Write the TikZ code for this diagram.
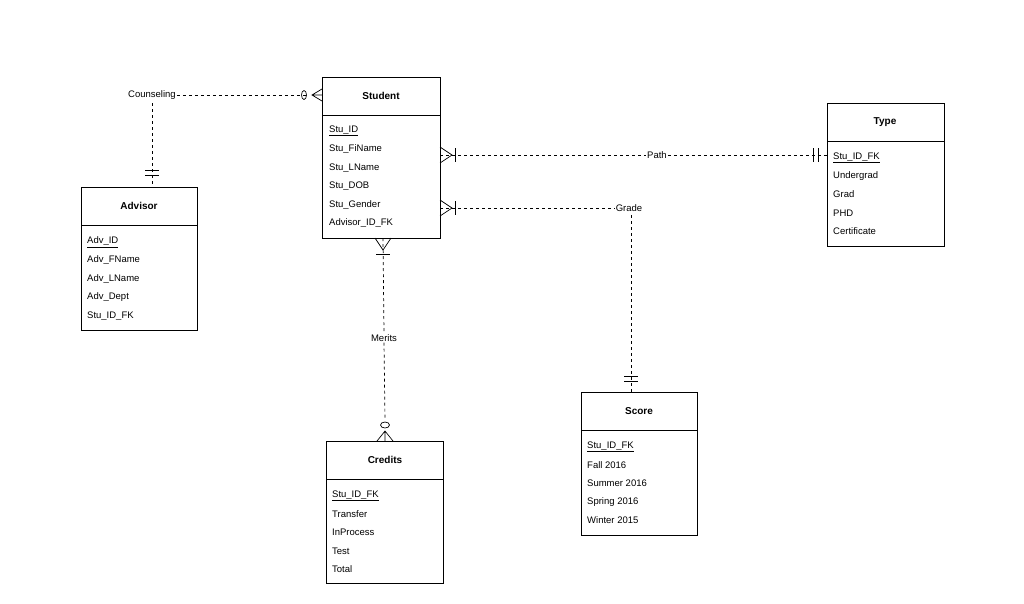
\documentclass[tikz,border=0pt]{standalone}
\usepackage{fontspec}
\setmainfont{Liberation Sans}
\begin{document}
\begin{tikzpicture}[x=1pt,y=-1pt,
  ent/.style={draw,line width=0.8pt,anchor=north west,inner sep=0pt},
  ttl/.style={font=\fontsize{10}{12}\selectfont\bfseries},
  att/.style={font=\fontsize{9.5}{11}\selectfont,anchor=west,inner sep=0pt},
  rel/.style={line width=0.7pt,dash pattern=on 3pt off 3pt},
  mk/.style={line width=0.7pt},
  lbl/.style={font=\fontsize{9.5}{11}\selectfont,fill=white,inner sep=1pt}]
\useasboundingbox (0,0) rectangle (1024,603);
% entity macro-free definitions
% Student
\node[ent,minimum width=118pt,minimum height=161pt] (stu) at (322,77) {};
\draw[line width=0.8pt] (322,115) -- (440,115);
\node[ttl] at (381,96) {Student};
\node[att] at (329,131) {\underline{Stu\_ID}};
\node[att] at (329,149) {Stu\_FiName};
\node[att] at (329,168) {Stu\_LName};
\node[att] at (329,186) {Stu\_DOB};
\node[att] at (329,205) {Stu\_Gender};
\node[att] at (329,223) {Advisor\_ID\_FK};
% Advisor
\node[ent,minimum width=116pt,minimum height=143pt] (adv) at (81,187) {};
\draw[line width=0.8pt] (81,225) -- (197,225);
\node[ttl] at (139,206) {Advisor};
\node[att] at (87,242) {\underline{Adv\_ID}};
\node[att] at (87,260) {Adv\_FName};
\node[att] at (87,279) {Adv\_LName};
\node[att] at (87,297) {Adv\_Dept};
\node[att] at (87,316) {Stu\_ID\_FK};
% Type
\node[ent,minimum width=117pt,minimum height=143pt] (typ) at (827,103) {};
\draw[line width=0.8pt] (827,141) -- (944,141);
\node[ttl] at (885,122) {Type};
\node[att] at (833,158) {\underline{Stu\_ID\_FK}};
\node[att] at (833,176) {Undergrad};
\node[att] at (833,194) {Grad};
\node[att] at (833,213) {PHD};
\node[att] at (833,231) {Certificate};
% Score
\node[ent,minimum width=116pt,minimum height=143pt] (sco) at (581,392) {};
\draw[line width=0.8pt] (581,430) -- (697,430);
\node[ttl] at (639,411) {Score};
\node[att] at (587,447) {\underline{Stu\_ID\_FK}};
\node[att] at (587,465) {Fall 2016};
\node[att] at (587,483) {Summer 2016};
\node[att] at (587,502) {Spring 2016};
\node[att] at (587,520) {Winter 2015};
% Credits
\node[ent,minimum width=117pt,minimum height=142pt] (cre) at (326,441) {};
\draw[line width=0.8pt] (326,479) -- (443,479);
\node[ttl] at (385,460) {Credits};
\node[att] at (332,496) {\underline{Stu\_ID\_FK}};
\node[att] at (332,514) {Transfer};
\node[att] at (332,532) {InProcess};
\node[att] at (332,551) {Test};
\node[att] at (332,569) {Total};
% relationship labels
\node[lbl] (cou) at (152,95) {Counseling};
\node[lbl] (pat) at (657,155) {Path};
\node[lbl] (gra) at (629,208) {Grade};
\node[lbl] (mer) at (384,338) {Merits};
\coordinate (sL) at (322,95);
\coordinate (aT) at (152,187);
\coordinate (sR1) at (440,155);
\coordinate (tL) at (827,155);
\coordinate (sR2) at (440,208);
\coordinate (gD) at (631,215);
\coordinate (scT) at (631,392);
\coordinate (sB) at (383,238);
\coordinate (cT) at (385,441);
% Counseling
\draw[rel] (cou.east) -- (308,95);
\draw[rel] (152,103) -- (aT);
\draw[mk] (304,95) ellipse (2.5pt and 4.5pt);
\draw[mk] (sL) ++(0,-6) -- (312,95) -- (322,101) (312,95) -- (sL);
\draw[mk] (145,170) -- (159,170) (145,175) -- (159,175);
% Path
\draw[rel] (sR1) -- (pat.west);
\draw[rel] (pat.east) -- (tL);
\draw[mk] (440,147) -- (452,155) -- (440,163);
\draw[mk] (455,148) -- (455,162);
\draw[mk] (813,148) -- (813,162) (818,148) -- (818,162);
% Grade
\draw[rel] (sR2) -- (gra.west);
\draw[rel] (gD) -- (scT);
\draw[mk] (440,200) -- (452,208) -- (440,216);
\draw[mk] (455,201) -- (455,215);
\draw[mk] (624,376) -- (638,376) (624,381) -- (638,381);
% Merits
\draw[rel] (sB) -- (mer.north);
\draw[rel] (mer.south) -- (385,420);
\draw[mk] (375,238) -- (383,250) -- (391,238);
\draw[mk] (376,254) -- (390,254);
\draw[mk] (385,425) ellipse (4.5pt and 3pt);
\draw[mk] (377,441) -- (385,431) -- (393,441) (385,431) -- (cT);
\end{tikzpicture}
\end{document}
